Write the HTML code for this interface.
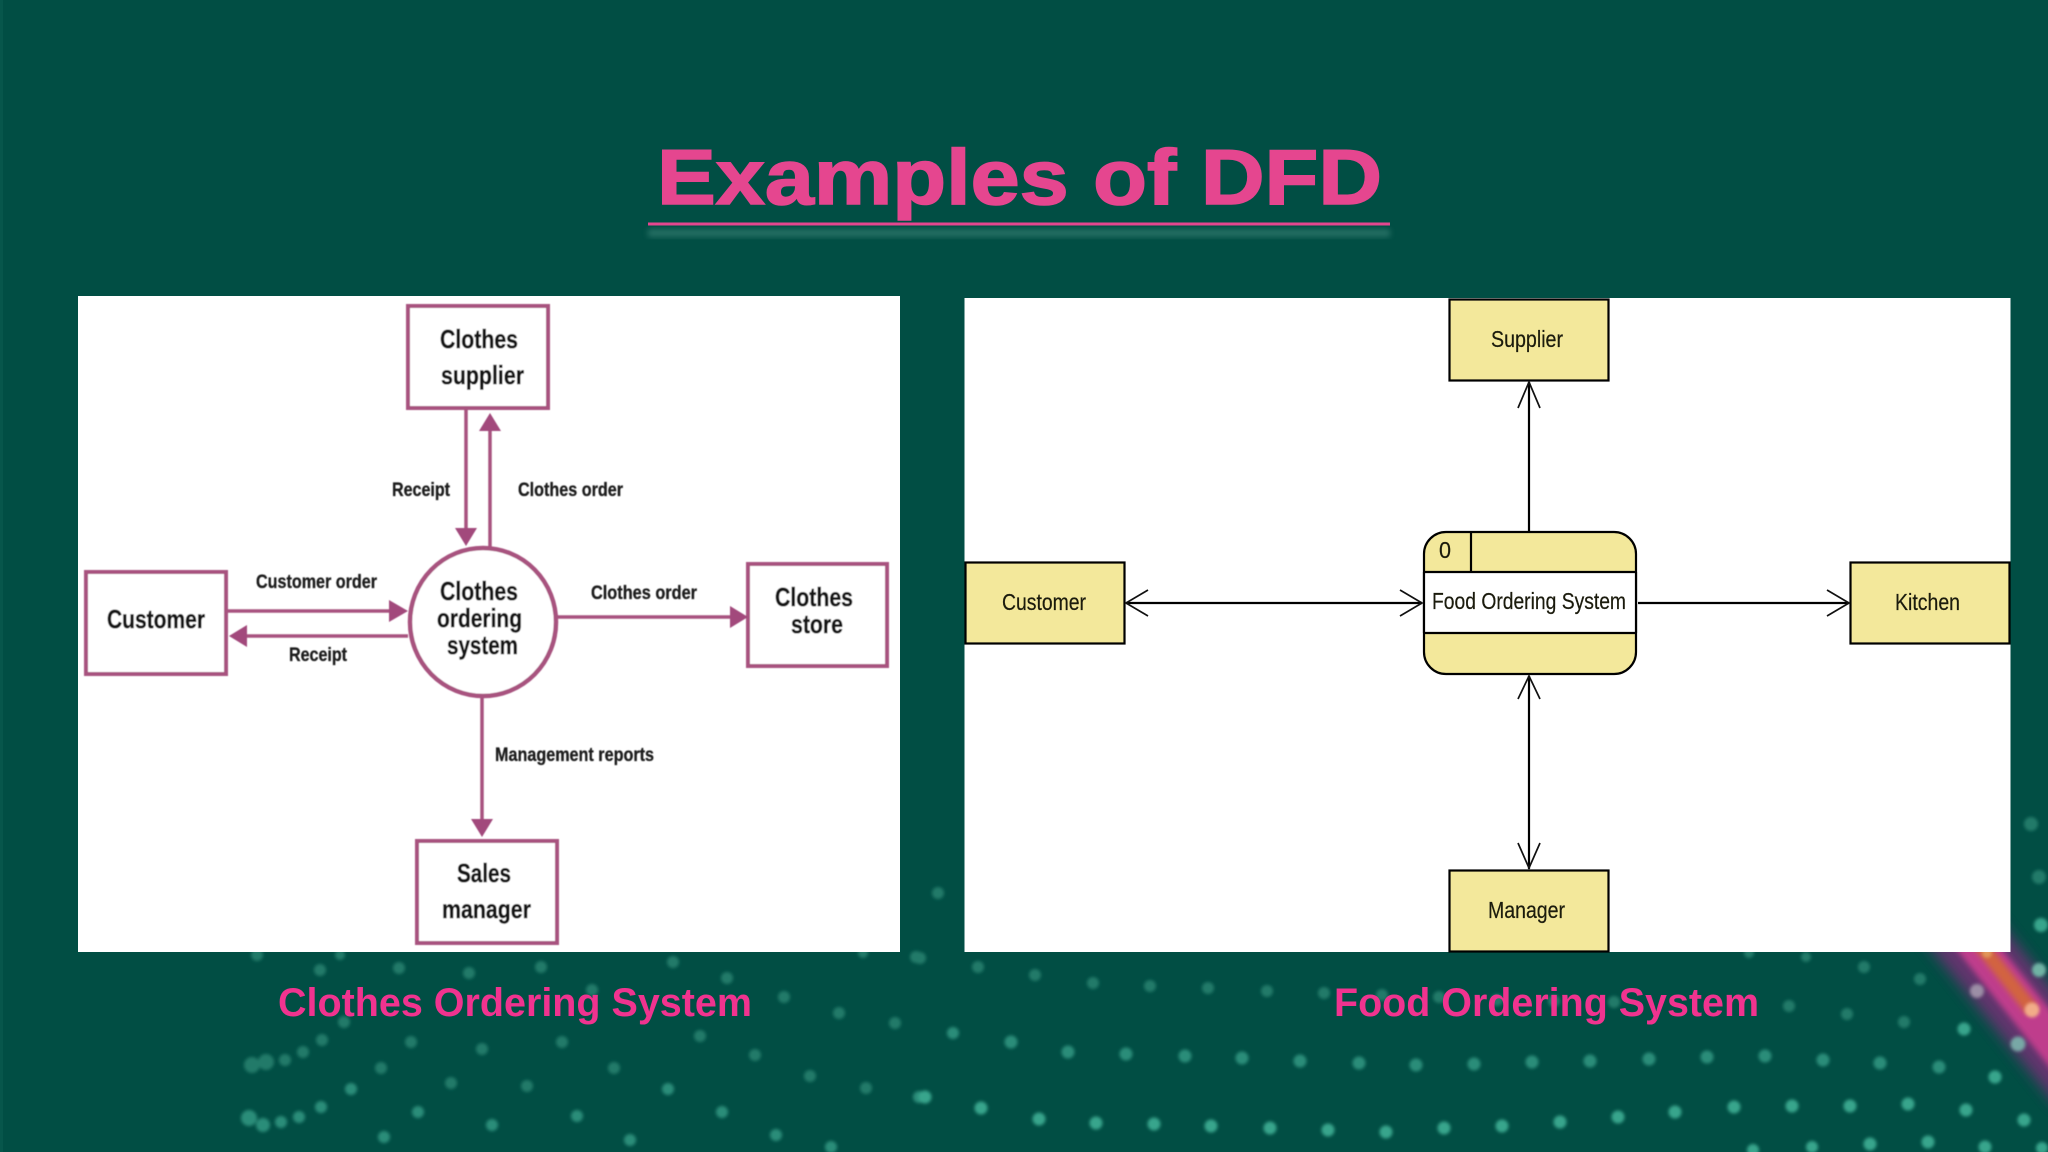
<!DOCTYPE html>
<html lang="en"><head><meta charset="utf-8"><title>Examples of DFD</title>
<style>
html,body{margin:0;padding:0;width:2048px;height:1152px;overflow:hidden;background:#014e44}
svg{display:block;position:absolute;left:0;top:0}
text{font-family:"Liberation Sans",Arial,sans-serif}
.l{font-weight:bold;fill:#161616;font-size:26px;stroke:#161616;stroke-width:.5px}
.s{font-weight:bold;fill:#1c1c1c;font-size:19px;stroke:#1c1c1c;stroke-width:.3px}
.r{fill:#1a1a0a;font-size:23px;stroke:#1a1a0a;stroke-width:.2px}
</style></head><body>
<svg width="2048" height="1152" viewBox="0 0 2048 1152" xmlns="http://www.w3.org/2000/svg">
<defs>
<filter id="b1" x="-20%" y="-20%" width="140%" height="140%"><feGaussianBlur stdDeviation="1.7"/></filter>
<filter id="b2" x="-30%" y="-30%" width="160%" height="160%"><feGaussianBlur stdDeviation="7"/></filter>
<filter id="b3" x="-30%" y="-30%" width="160%" height="160%"><feGaussianBlur stdDeviation="3"/></filter>
<filter id="b0"><feGaussianBlur stdDeviation="0.5"/></filter>
<filter id="b4"><feGaussianBlur stdDeviation="0.3"/></filter>
</defs>
<rect width="2048" height="1152" fill="#014e44"/>
<rect x="0" y="0" width="3" height="1152" fill="#0b5c50" opacity=".6"/>
<!-- streak -->
<g stroke-linecap="butt" fill="none">
<line x1="1945" y1="910" x2="2085" y2="1085" stroke="#7a2f78" stroke-width="70" filter="url(#b2)" opacity=".8"/>
<line x1="1960" y1="925" x2="2085" y2="1083" stroke="#bf3c8c" stroke-width="36" filter="url(#b3)"/>
<line x1="1975" y1="938" x2="2032" y2="1010" stroke="#d2643f" stroke-width="14" filter="url(#b3)"/>
</g>
<!-- dots -->
<g filter="url(#b1)">
<g fill="#247a69">
<circle cx="978" cy="967" r="6"/><circle cx="1035" cy="975" r="6"/><circle cx="1093" cy="983" r="6"/><circle cx="1150" cy="986" r="6"/><circle cx="1208" cy="988" r="6"/><circle cx="1267" cy="991" r="6"/><circle cx="1324" cy="993" r="6"/><circle cx="1382" cy="995" r="6"/><circle cx="1439" cy="997" r="6"/><circle cx="1497" cy="1000" r="6"/><circle cx="1554" cy="1001" r="6"/><circle cx="1614" cy="1002" r="6"/><circle cx="1789" cy="1006" r="6"/><circle cx="1847" cy="1014" r="6"/><circle cx="1904" cy="1022" r="6"/><circle cx="1864" cy="967" r="6"/><circle cx="1920" cy="979" r="6"/><circle cx="1749" cy="953" r="5"/><circle cx="1806" cy="957" r="5"/><circle cx="921" cy="958" r="5"/>
<circle cx="938" cy="893" r="6"/><circle cx="920" cy="958" r="6"/><circle cx="2031" cy="824" r="7"/><circle cx="2039" cy="877" r="7"/>
<circle cx="320" cy="970" r="6"/><circle cx="399" cy="968" r="6"/><circle cx="469" cy="973" r="6"/><circle cx="541" cy="967" r="6"/><circle cx="673" cy="962" r="6"/><circle cx="727" cy="978" r="6"/><circle cx="784" cy="997" r="6"/><circle cx="839" cy="1013" r="6"/><circle cx="895" cy="1023" r="6"/><circle cx="592" cy="990" r="6"/><circle cx="344" cy="1022" r="6"/><circle cx="322" cy="1040" r="6"/><circle cx="411" cy="1042" r="6"/><circle cx="482" cy="1049" r="6"/><circle cx="562" cy="1042" r="6"/><circle cx="700" cy="1036" r="6"/><circle cx="755" cy="1055" r="6"/><circle cx="810" cy="1076" r="6"/><circle cx="866" cy="1088" r="6"/><circle cx="303" cy="1052" r="6"/><circle cx="285" cy="1060" r="6"/><circle cx="266" cy="1062" r="8"/><circle cx="252" cy="1065" r="8"/><circle cx="381" cy="1068" r="6"/><circle cx="451" cy="1083" r="6"/><circle cx="527" cy="1086" r="6"/><circle cx="614" cy="1068" r="6"/><circle cx="257" cy="955" r="6"/><circle cx="340" cy="955" r="5"/><circle cx="863" cy="953" r="5"/><circle cx="916" cy="957" r="6"/>
</g>
<g fill="#2b8d79">
<circle cx="953" cy="1033" r="6"/><circle cx="1011" cy="1042" r="6.5"/><circle cx="1068" cy="1052" r="6.5"/><circle cx="1126" cy="1054" r="6.5"/><circle cx="1185" cy="1056" r="6.5"/><circle cx="1242" cy="1058" r="6.5"/><circle cx="1300" cy="1061" r="6.5"/><circle cx="1359" cy="1063" r="6.5"/><circle cx="1416" cy="1065" r="6.5"/><circle cx="1474" cy="1064" r="6.5"/><circle cx="1532" cy="1062" r="6.5"/><circle cx="1590" cy="1061" r="6.5"/><circle cx="1649" cy="1059" r="6.5"/><circle cx="1707" cy="1057" r="6.5"/><circle cx="1765" cy="1056" r="6.5"/><circle cx="1823" cy="1060" r="6.5"/><circle cx="1880" cy="1063" r="6.5"/><circle cx="1939" cy="1067" r="6.5"/><circle cx="1995" cy="1077" r="6.5"/>
<circle cx="351" cy="1089" r="6"/><circle cx="668" cy="1089" r="6"/><circle cx="321" cy="1107" r="6"/><circle cx="299" cy="1117" r="6"/><circle cx="281" cy="1122" r="6"/><circle cx="263" cy="1125" r="7"/><circle cx="249" cy="1118" r="8"/><circle cx="418" cy="1112" r="6"/><circle cx="492" cy="1125" r="6"/><circle cx="577" cy="1116" r="6"/><circle cx="722" cy="1112" r="6"/><circle cx="776" cy="1135" r="6"/><circle cx="384" cy="1137" r="6"/><circle cx="630" cy="1140" r="6"/><circle cx="831" cy="1147" r="6"/><circle cx="919" cy="1097" r="6"/>
</g>
<g fill="#38a58c">
<circle cx="925" cy="1097" r="6.5"/><circle cx="981" cy="1108" r="6.5"/><circle cx="1039" cy="1119" r="6.5"/><circle cx="1096" cy="1123" r="6.5"/><circle cx="1154" cy="1124" r="6.5"/><circle cx="1211" cy="1126" r="6.5"/><circle cx="1270" cy="1128" r="6.5"/><circle cx="1328" cy="1130" r="6.5"/><circle cx="1386" cy="1132" r="6.5"/><circle cx="1444" cy="1128" r="6.5"/><circle cx="1502" cy="1126" r="6.5"/><circle cx="1560" cy="1122" r="6.5"/><circle cx="1618" cy="1117" r="6.5"/><circle cx="1675" cy="1112" r="6.5"/><circle cx="1734" cy="1107" r="6.5"/><circle cx="1792" cy="1106" r="6.5"/><circle cx="1850" cy="1106" r="6.5"/><circle cx="1908" cy="1104" r="6.5"/><circle cx="1966" cy="1110" r="6.5"/><circle cx="2024" cy="1120" r="6.5"/>
<circle cx="1753" cy="1150" r="6"/><circle cx="1812" cy="1147" r="6"/><circle cx="1870" cy="1144" r="6.5"/><circle cx="1928" cy="1142" r="6.5"/><circle cx="1985" cy="1147" r="6.5"/><circle cx="2042" cy="1148" r="6"/>
<circle cx="1964" cy="1029" r="6.5"/><circle cx="1995" cy="1077" r="6.5"/><circle cx="2041" cy="925" r="7"/>
</g>
<circle cx="1977" cy="991" r="7" fill="#9c8ea6"/>
<circle cx="2032" cy="1010" r="7.5" fill="#f2ac88"/>
<circle cx="2018" cy="1044" r="7.5" fill="#78a8a6"/>
<circle cx="2039" cy="970" r="7" fill="#6fb3a4"/>
<circle cx="1987" cy="953" r="5" fill="#e0975a"/>
</g>

<!-- title -->
<text x="657" y="204" font-size="78" font-weight="bold" fill="#e5468f" stroke="#e5468f" stroke-width="1.6" textLength="725" lengthAdjust="spacingAndGlyphs">Examples of DFD</text>
<rect x="648" y="222.500" width="742" height="3" fill="#e5468f"/>
<rect x="648" y="229" width="742" height="8" fill="#4a8f82" opacity=".5" filter="url(#b3)"/>

<!-- left panel -->
<rect x="78" y="296" width="822" height="656" fill="#fff"/>
<g filter="url(#b0)">
<g fill="#fff" stroke="#a8527f" stroke-width="4">
<rect x="408" y="306" width="140" height="102"/>
<rect x="86" y="572" width="140" height="102"/>
<rect x="748" y="564" width="139" height="102"/>
<rect x="417" y="841" width="140" height="102"/>
<ellipse cx="483" cy="622" rx="73" ry="74" stroke-width="4.500"/>
</g>
<g stroke="#a8527f" stroke-width="3.500">
<line x1="466" y1="408" x2="466" y2="530"/>
<line x1="490" y1="548" x2="490" y2="428"/>
<line x1="226" y1="611" x2="392" y2="611"/>
<line x1="408" y1="636" x2="244" y2="636"/>
<line x1="557" y1="617" x2="733" y2="617"/>
<line x1="482" y1="696" x2="482" y2="822"/>
</g>
<g fill="#a2487c">
<polygon points="455,528 477,528 466,546"/>
<polygon points="479,431 501,431 490,413"/>
<polygon points="389,600 389,622 408,611"/>
<polygon points="247,625 247,647 229,636"/>
<polygon points="730,606 730,628 748,617"/>
<polygon points="471,819 493,819 482,837"/>
</g>
<text class="l" x="440" y="348" textLength="78" lengthAdjust="spacingAndGlyphs">Clothes</text>
<text class="l" x="441" y="384" textLength="83" lengthAdjust="spacingAndGlyphs">supplier</text>
<text class="l" x="107" y="628" textLength="98" lengthAdjust="spacingAndGlyphs">Customer</text>
<text class="l" x="775" y="606" textLength="78" lengthAdjust="spacingAndGlyphs">Clothes</text>
<text class="l" x="791" y="633" textLength="52" lengthAdjust="spacingAndGlyphs">store</text>
<text class="l" x="440" y="600" textLength="78" lengthAdjust="spacingAndGlyphs">Clothes</text>
<text class="l" x="437" y="627" textLength="85" lengthAdjust="spacingAndGlyphs">ordering</text>
<text class="l" x="447" y="654" textLength="71" lengthAdjust="spacingAndGlyphs">system</text>
<text class="l" x="457" y="882" textLength="54" lengthAdjust="spacingAndGlyphs">Sales</text>
<text class="l" x="442" y="918" textLength="89" lengthAdjust="spacingAndGlyphs">manager</text>
<text class="s" x="392" y="496" textLength="58" lengthAdjust="spacingAndGlyphs">Receipt</text>
<text class="s" x="518" y="496" textLength="105" lengthAdjust="spacingAndGlyphs">Clothes order</text>
<text class="s" x="256" y="588" textLength="121" lengthAdjust="spacingAndGlyphs">Customer order</text>
<text class="s" x="289" y="661" textLength="58" lengthAdjust="spacingAndGlyphs">Receipt</text>
<text class="s" x="591" y="599" textLength="106" lengthAdjust="spacingAndGlyphs">Clothes order</text>
<text class="s" x="495" y="761" textLength="159" lengthAdjust="spacingAndGlyphs">Management reports</text>
</g>

<!-- right panel -->
<rect x="964.500" y="298" width="1046" height="654" fill="#fff"/>
<g stroke="#000" stroke-width="2.200" fill="#f3e89b">
<rect x="1449.500" y="299.500" width="159" height="81"/>
<rect x="965.500" y="562.500" width="159" height="81"/>
<rect x="1850.500" y="562.500" width="159" height="81"/>
<rect x="1449.500" y="870.500" width="159" height="81"/>
<rect x="1424" y="532" width="212" height="142" rx="22" ry="22"/>
</g>
<rect x="1425" y="573" width="210" height="60" fill="#fff"/>
<g stroke="#000" stroke-width="2.200" fill="none">
<line x1="1424" y1="572" x2="1636" y2="572"/>
<line x1="1424" y1="633" x2="1636" y2="633"/>
<line x1="1471" y1="532" x2="1471" y2="572"/>
<line x1="1424" y1="572" x2="1424" y2="633"/>
<line x1="1636" y1="572" x2="1636" y2="633"/>
<line x1="1529" y1="531" x2="1529" y2="382"/>
<line x1="1126" y1="603" x2="1422" y2="603"/>
<line x1="1638" y1="603" x2="1849" y2="603"/>
<line x1="1529" y1="676" x2="1529" y2="869"/>
</g>
<g stroke="#111" stroke-width="1.700" fill="none">
<polyline points="1518,408 1529,382 1540,408"/>
<polyline points="1148,590 1126,603 1148,616"/>
<polyline points="1400,590 1422,603 1400,616"/>
<polyline points="1827,590 1849,603 1827,616"/>
<polyline points="1518,699 1529,676 1540,699"/>
<polyline points="1518,843 1529,868 1540,843"/>
</g>
<g filter="url(#b4)">
<text class="r" x="1491" y="347" textLength="72" lengthAdjust="spacingAndGlyphs">Supplier</text>
<text class="r" x="1002" y="610" textLength="84" lengthAdjust="spacingAndGlyphs">Customer</text>
<text class="r" x="1895" y="610" textLength="65" lengthAdjust="spacingAndGlyphs">Kitchen</text>
<text class="r" x="1488" y="918" textLength="77" lengthAdjust="spacingAndGlyphs">Manager</text>
<text class="r" x="1439" y="558" textLength="12" lengthAdjust="spacingAndGlyphs">0</text>
<text class="r" x="1432" y="609" textLength="194" lengthAdjust="spacingAndGlyphs">Food Ordering System</text>
</g>

<!-- captions -->
<text x="278" y="1016" font-size="40" font-weight="bold" fill="#f0338f" textLength="474" lengthAdjust="spacingAndGlyphs">Clothes Ordering System</text>
<text x="1334" y="1016" font-size="40" font-weight="bold" fill="#f0338f" textLength="425" lengthAdjust="spacingAndGlyphs">Food Ordering System</text>
</svg>
</body></html>
